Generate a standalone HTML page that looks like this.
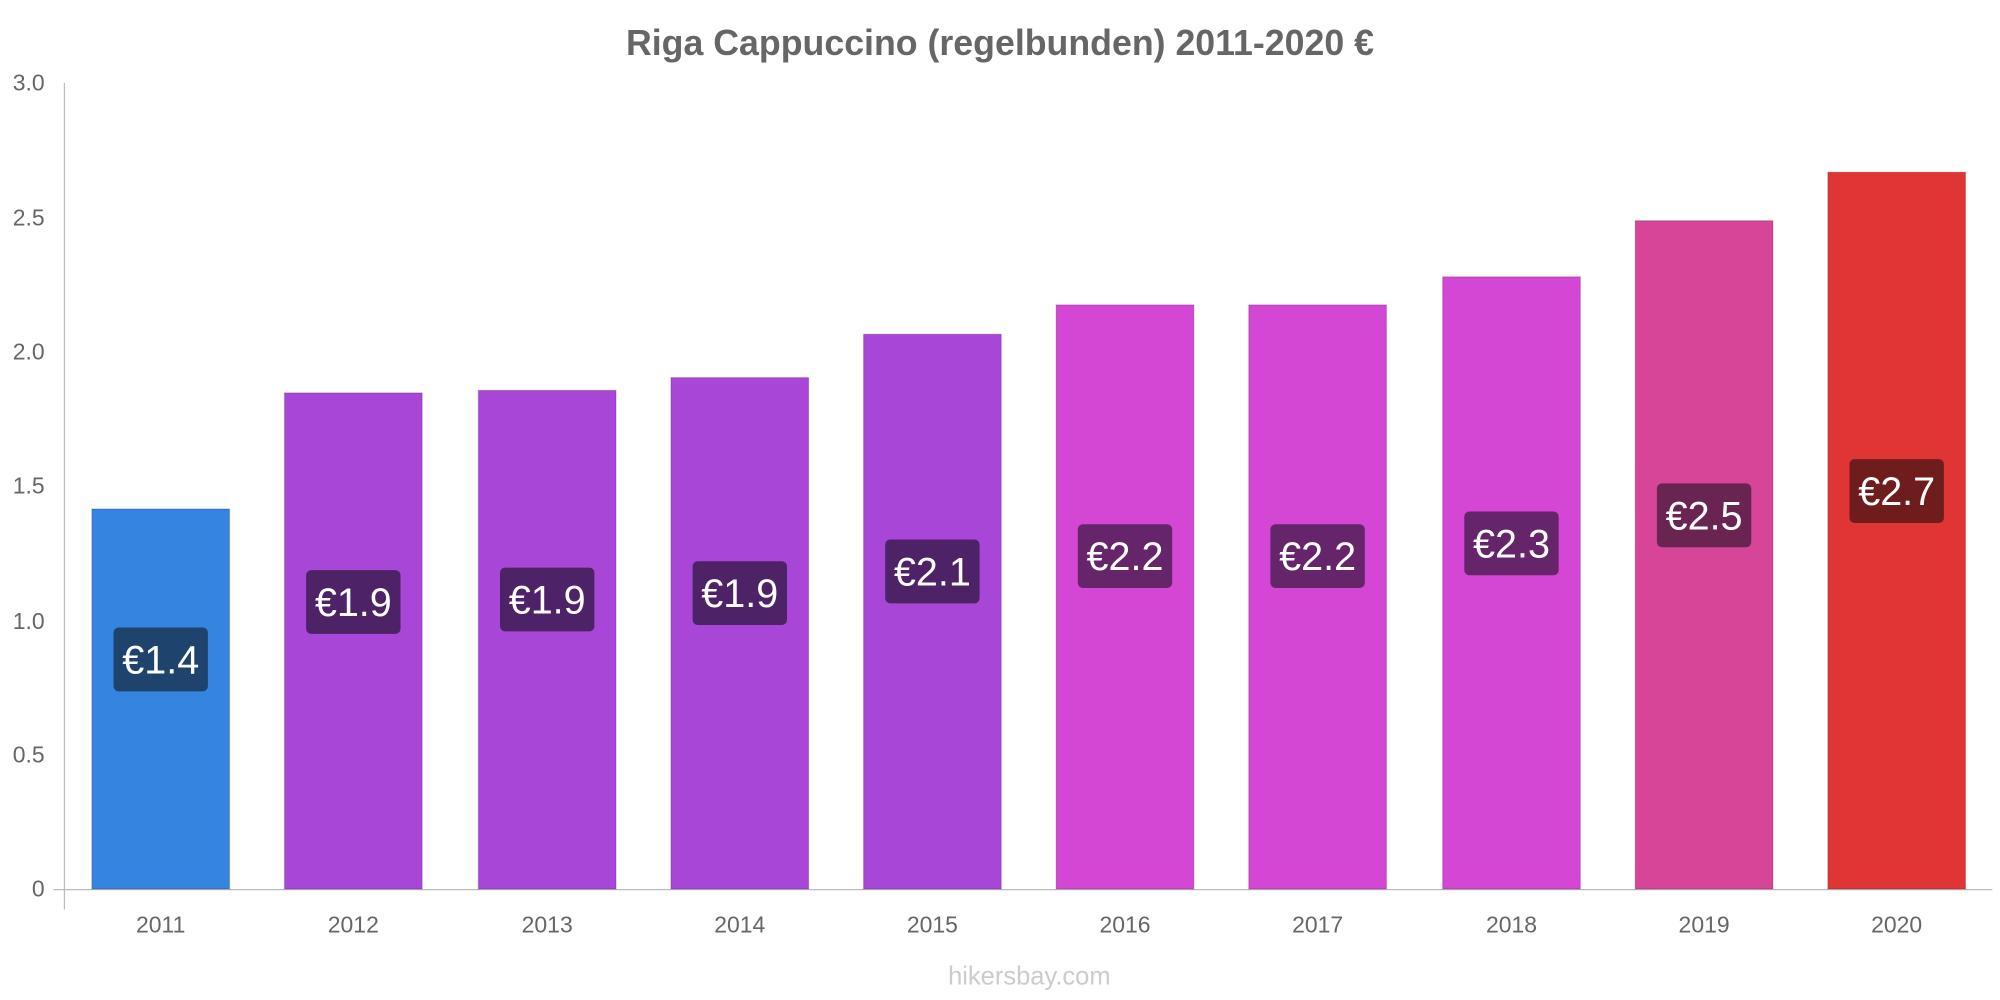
<!DOCTYPE html>
<html><head><meta charset="utf-8"><style>html,body{margin:0;padding:0;background:#fff}svg{display:block}</style></head>
<body>
<svg width="2000" height="1000" viewBox="0 0 1568 784" xmlns="http://www.w3.org/2000/svg" font-family="Liberation Sans, sans-serif">
<text x="784" y="43" text-anchor="middle" font-size="28" font-weight="bold" fill="#666">Riga Cappuccino (regelbunden) 2011-2020 €</text>
<line x1="50.5" y1="65" x2="50.5" y2="713" stroke="#bbb" stroke-width="1"/>
<line x1="42" y1="697.5" x2="1562" y2="697.5" stroke="#bbb" stroke-width="1"/>
<g font-size="18" fill="#666" text-anchor="end">
<text x="35" y="703">0</text>
<text x="35" y="598">0.5</text>
<text x="35" y="493">1.0</text>
<text x="35" y="387">1.5</text>
<text x="35" y="282">2.0</text>
<text x="35" y="177">2.5</text>
<text x="35" y="71">3.0</text>
</g>
<g stroke="rgba(0,0,0,0.15)">
<rect x="72" y="399" width="108" height="298" fill="#3584e0"/>
<rect x="223" y="308" width="108" height="389" fill="#a846d8"/>
<rect x="375" y="306" width="108" height="391" fill="#a846d8"/>
<rect x="526" y="296" width="108" height="401" fill="#a846d8"/>
<rect x="677" y="262" width="108" height="435" fill="#a846d8"/>
<rect x="828" y="239" width="108" height="458" fill="#d446d4"/>
<rect x="979" y="239" width="108" height="458" fill="#d446d4"/>
<rect x="1131" y="217" width="108" height="480" fill="#d446d4"/>
<rect x="1282" y="173" width="108" height="524" fill="#d64598"/>
<rect x="1433" y="135" width="108" height="562" fill="#e03535"/>
</g>
<g>
<rect x="89" y="492" width="74" height="50" rx="4" fill="#1e446e"/>
<rect x="240" y="447" width="74" height="50" rx="4" fill="#4e2266"/>
<rect x="392" y="445" width="74" height="50" rx="4" fill="#4e2266"/>
<rect x="543" y="440" width="74" height="50" rx="4" fill="#4e2266"/>
<rect x="694" y="423" width="74" height="50" rx="4" fill="#4e2266"/>
<rect x="845" y="411" width="74" height="50" rx="4" fill="#66246a"/>
<rect x="996" y="411" width="74" height="50" rx="4" fill="#66246a"/>
<rect x="1148" y="401" width="74" height="50" rx="4" fill="#66246a"/>
<rect x="1299" y="379" width="74" height="50" rx="4" fill="#6a2452"/>
<rect x="1450" y="360" width="74" height="50" rx="4" fill="#6e1c1c"/>
</g>
<g font-size="31" fill="#fff" text-anchor="middle">
<text x="126" y="528">€1.4</text>
<text x="277" y="483">€1.9</text>
<text x="429" y="481">€1.9</text>
<text x="580" y="476">€1.9</text>
<text x="731" y="459">€2.1</text>
<text x="882" y="447">€2.2</text>
<text x="1033" y="447">€2.2</text>
<text x="1185" y="437">€2.3</text>
<text x="1336" y="415">€2.5</text>
<text x="1487" y="396">€2.7</text>
</g>
<g font-size="18" fill="#666" text-anchor="middle">
<text x="126" y="731">2011</text>
<text x="277" y="731">2012</text>
<text x="429" y="731">2013</text>
<text x="580" y="731">2014</text>
<text x="731" y="731">2015</text>
<text x="882" y="731">2016</text>
<text x="1033" y="731">2017</text>
<text x="1185" y="731">2018</text>
<text x="1336" y="731">2019</text>
<text x="1487" y="731">2020</text>
</g>
<text x="807" y="772" text-anchor="middle" font-size="20" fill="#ccc">hikersbay.com</text>
</svg>
</body></html>
